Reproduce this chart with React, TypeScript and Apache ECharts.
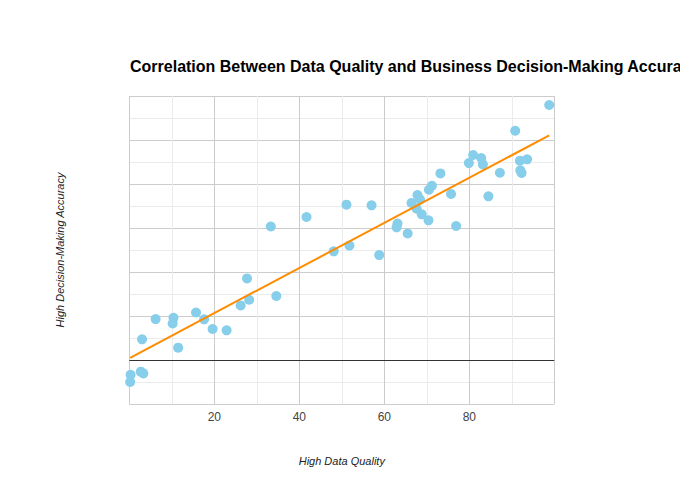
import React, { useEffect, useRef } from "react";
import * as echarts from "echarts";

const titleText = "Correlation Between Data Quality and Business Decision-Making Accuracy";
const xAxisName = "High Data Quality";
const yAxisName = "High Decision-Making Accuracy";
const xTickLabels = [20, 40, 60, 80];

const xValues = [
  0.3, 0.2, 2.7, 3.3, 3.0, 6.2, 10.4, 10.2, 11.5, 15.7, 17.6, 19.6, 22.9, 26.2, 27.7, 28.2, 33.3, 34.6, 41.7, 48.1,
  51.1, 51.8, 57.0, 58.8, 63.1, 62.9, 65.5, 66.4, 67.8, 68.4, 67.6, 68.8, 70.4, 70.5, 71.2, 73.2, 75.7, 76.9, 79.9, 80.9,
  82.8, 83.2, 84.5, 87.2, 90.8, 91.9, 93.6, 92.0, 92.3, 98.8,
];
const yValues = [
  -6.7, -10, -5.3, -6.1, 9.4, 18.6, 19.2, 16.6, 5.6, 21.6, 18.5, 14.1, 13.5, 24.8, 37.1, 27.4, 60.7, 29.1, 65, 49.4,
  70.6, 52, 70.3, 47.7, 62, 60.3, 57.5, 71.4, 75, 72.9, 68.8, 66.2, 63.5, 77.4, 79.2, 84.8, 75.5, 60.9, 89.5, 93.2,
  91.8, 88.9, 74.4, 85.1, 104.2, 90.6, 91.2, 86.2, 85, 115.9,
];

function linearFit(xs: number[], ys: number[]) {
  const n = xs.length;
  let sx = 0, sy = 0, sxx = 0, sxy = 0;
  for (let i = 0; i < n; i++) {
    sx += xs[i]; sy += ys[i]; sxx += xs[i] * xs[i]; sxy += xs[i] * ys[i];
  }
  const slope = (n * sxy - sx * sy) / (n * sxx - sx * sx);
  const intercept = (sy - slope * sx) / n;
  return { slope, intercept };
}

const FONT = "'Liberation Sans', Arial, sans-serif";

export default function App() {
  const ref = useRef<HTMLDivElement>(null);
  useEffect(() => {
    if (!ref.current) return;
    const chart = echarts.init(ref.current, undefined, { renderer: "svg" });
    const points = xValues.map((x, i) => [x, yValues[i]]);
    const { slope, intercept } = linearFit(xValues, yValues);
    const xMin = Math.min(...xValues);
    const xMax = Math.max(...xValues);
    const trend = [
      [xMin, intercept + slope * xMin],
      [xMax, intercept + slope * xMax],
    ];
    chart.setOption({
      animation: false,
      backgroundColor: "#ffffff",
      textStyle: { fontFamily: FONT },
      title: {
        text: titleText,
        left: 130,
        top: 58,
        padding: 0,
        textStyle: { fontFamily: FONT, fontSize: 16, fontWeight: "bold", color: "#000000" },
      },
      grid: { left: 129.3, right: 125.7, top: 96, bottom: 96, containLabel: false },
      xAxis: {
        type: "value",
        min: 0,
        max: 100,
        interval: 20,
        name: xAxisName,
        nameLocation: "middle",
        nameGap: 51,
        nameTextStyle: { fontFamily: FONT, fontSize: 11, fontStyle: "italic", color: "#222222" },
        axisLine: { show: false },
        axisTick: { show: false },
        axisLabel: {
          fontFamily: FONT,
          fontSize: 12,
          color: "#444444",
          margin: 7,
          formatter: (v: number) => (xTickLabels.includes(v) ? String(v) : ""),
        },
        splitLine: { show: true, lineStyle: { color: "#cccccc", width: 1 } },
        minorTick: { show: false, splitNumber: 2 },
        minorSplitLine: { show: true, lineStyle: { color: "#ebebeb", width: 1 } },
      },
      yAxis: {
        type: "value",
        min: -20,
        max: 120,
        interval: 20,
        name: yAxisName,
        nameLocation: "middle",
        nameGap: 64,
        nameTextStyle: { fontFamily: FONT, fontSize: 11, fontStyle: "italic", color: "#222222" },
        axisLine: { show: false },
        axisTick: { show: false },
        axisLabel: { show: false },
        splitLine: { show: true, lineStyle: { color: "#cccccc", width: 1 } },
        minorTick: { show: false, splitNumber: 2 },
        minorSplitLine: { show: true, lineStyle: { color: "#ebebeb", width: 1 } },
      },
      series: [
        {
          type: "scatter",
          data: points,
          symbolSize: 10,
          itemStyle: { color: "#87ceeb", opacity: 1 },
          z: 3,
          markLine: {
            silent: true,
            symbol: "none",
            label: { show: false },
            lineStyle: { color: "#333333", width: 1, type: "solid" },
            data: [{ yAxis: 0 }],
            z: 2,
          },
        },
        {
          type: "line",
          data: trend,
          showSymbol: false,
          symbol: "none",
          lineStyle: { color: "#ff8c00", width: 2 },
          z: 4,
        },
      ],
    });
    return () => chart.dispose();
  }, []);
  return <div ref={ref} style={{ position: "absolute", left: 0, top: 0, width: 680, height: 500 }} />;
}
